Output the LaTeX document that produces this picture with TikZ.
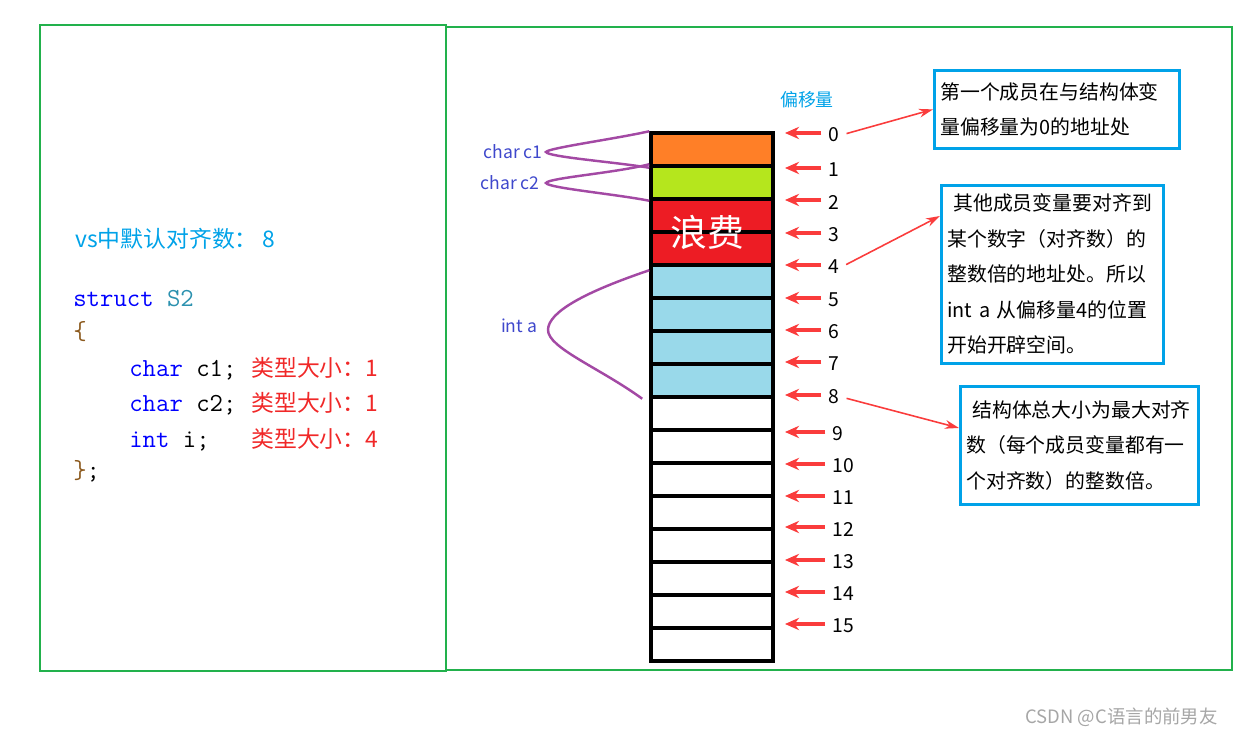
\documentclass[tikz,border=0pt]{standalone}
\usepackage{fontspec}
\setmainfont{Noto Sans CJK SC}
\newfontfamily\cjk{Noto Sans CJK SC}
\usetikzlibrary{arrows.meta}

\definecolor{framegreen}{RGB}{34,177,76}
\definecolor{boxblue}{RGB}{0,162,232}
\definecolor{cellorange}{RGB}{255,127,39}
\definecolor{celllime}{RGB}{181,230,29}
\definecolor{cellred}{RGB}{237,28,36}
\definecolor{cellblue}{RGB}{153,217,234}
\definecolor{curvepurple}{RGB}{163,73,164}
\definecolor{labelblue}{RGB}{63,72,204}
\definecolor{arrowred}{RGB}{250,60,60}
\definecolor{kwblue}{RGB}{0,0,255}
\definecolor{typeteal}{RGB}{43,145,175}
\definecolor{bracebrown}{RGB}{140,90,30}
\definecolor{sizered}{RGB}{240,40,40}

\tikzset{
  cell/.style={draw, line width=2pt, minimum width=2.44cm, minimum height=0.66cm, inner sep=0pt},
  offnum/.style={font=\fontsize{11}{13}\selectfont, inner sep=1pt},
  offarrow/.style={draw=arrowred, line width=1.8pt, shorten <=3pt, -{Stealth[length=8pt,width=7pt]}},
  notearrow/.style={draw=arrowred, line width=0.9pt, shorten <=3pt, -{Stealth[length=8pt,width=5pt]}},
  notebox/.style={draw=boxblue, line width=1.6pt, align=left, anchor=north west,
    inner xsep=0.12cm, inner ysep=0.1cm, font=\fontsize{11.3}{20.2}\selectfont},
  brace/.style={draw=curvepurple, line width=1.4pt},
  memberlabel/.style={text=labelblue, font=\fontsize{10}{11}\selectfont},
  codeline/.style={anchor=base west, inner xsep=0pt, font=\ttfamily\fontsize{14.8}{16}\selectfont},
  sizenote/.style={anchor=base west, inner xsep=0pt, text=sizered, font=\fontsize{13}{15}\selectfont}
}

\begin{document}
\begin{tikzpicture}[x=0.02cm,y=-0.02cm]
\useasboundingbox (0,0) rectangle (1242,736);
% two frames
\draw[framegreen, line width=1.5pt] (40,25) rectangle (446,671);
\draw[framegreen, line width=1.5pt] (446,27) rectangle (1232,670);

% left side: the struct
\node[anchor=base west, inner xsep=0pt, text=boxblue, font=\fontsize{13}{15}\selectfont] (align) at (75,248) {vs中默认对齐数： 8};
\node[codeline] (head) at (73,307) {{\color{kwblue}struct} {\color{typeteal}S2}};
\node[codeline, text=bracebrown] (open) at (73,340) {\{};
\node[codeline] (m1) at (129,377) {{\color{kwblue}char} c1;};
\node[codeline] (m2) at (129,412) {{\color{kwblue}char} c2;};
\node[codeline] (m3) at (129,448) {{\color{kwblue}int} i;};
\node[sizenote] (s1) at (251,377) {类型大小：1};
\node[sizenote] (s2) at (251,412) {类型大小：1};
\node[sizenote] (s3) at (251,448) {类型大小：4};
\node[codeline] (close) at (73,479) {{\color{bracebrown}\}};};

% memory cells
\foreach \i/\col in {0/cellorange,1/celllime,2/cellred,3/cellred,4/cellblue,5/cellblue,6/cellblue,7/cellblue,
  8/white,9/white,10/white,11/white,12/white,13/white,14/white,15/white}
  \node[cell, fill=\col] (c\i) at (712,{149.5+33*\i}) {};
\node[text=white, font=\fontsize{21}{24}\selectfont] (waste) at (707,232) {浪费};

% offsets
\node[text=boxblue, font=\fontsize{10.2}{12}\selectfont] (offtitle) at (807,100) {偏移量};
\foreach \i/\x/\y in {0/834/133,1/834/168,2/834/200,3/834/233,4/834/265,5/834/298,6/834/330,7/834/362,
  8/834/395,9/838/432,10/843/464,11/843/496,12/843/527,13/843/560,14/843/592,15/843/624} {
  \node[offnum] (n\i) at (\x,{\y+2}) {\i};
  \coordinate (t\i) at (785,\y);
  \draw[offarrow] (n\i.west |- t\i) -- (t\i);
}

% member braces
\draw[brace] (c0.north west) .. controls (615,139) and (548,148) .. (546,152)
  .. controls (548,157) and (615,162) .. (c0.south west);
\draw[brace] (c1.north west) .. controls (615,173) and (548,178) .. (546,183)
  .. controls (548,188) and (615,194) .. (c1.south west);
\draw[brace] ([yshift=-4pt]c4.north west) .. controls (585,292) and (548,312) .. (548,330)
  .. controls (548,348) and (600,368) .. ([xshift=-4pt]c7.south west);
\node[memberlabel] (lc1) at (513,152) {char c1};
\node[memberlabel] (lc2) at (510,183) {char c2};
\node[memberlabel] (la) at (519,326) {int a};

% notes
\node[notebox, text width=4.66cm, minimum height=1.56cm] (note1) at (933,69)
  {第一个成员在与结构体变\\量偏移量为0的地址处};
\node[notebox, text width=4.2cm, minimum height=3.56cm] (note2) at (940,184)
  {\hspace{0.3em}其他成员变量要对齐到\\某个数字（对齐数）的\\整数倍的地址处。所以\\int a 从偏移量4的位置\\开始开辟空间。};
\node[notebox, text width=4.52cm, minimum height=2.36cm] (note3) at (959,385)
  {\hspace{0.3em}结构体总大小为最大对齐\\数（每个成员变量都有一\\个对齐数）的整数倍。};
\draw[notearrow] (n0.east) -- (note1.west);
\draw[notearrow] (n4.east) -- ([yshift=-0.64cm]note2.north west);
\draw[notearrow] (n8.east) -- ([yshift=-0.86cm]note3.north west);

\node[anchor=east, text=black!35, font=\fontsize{10.5}{12}\selectfont] (mark) at (1224,717) {CSDN @C语言的前男友};
\end{tikzpicture}
\end{document}
